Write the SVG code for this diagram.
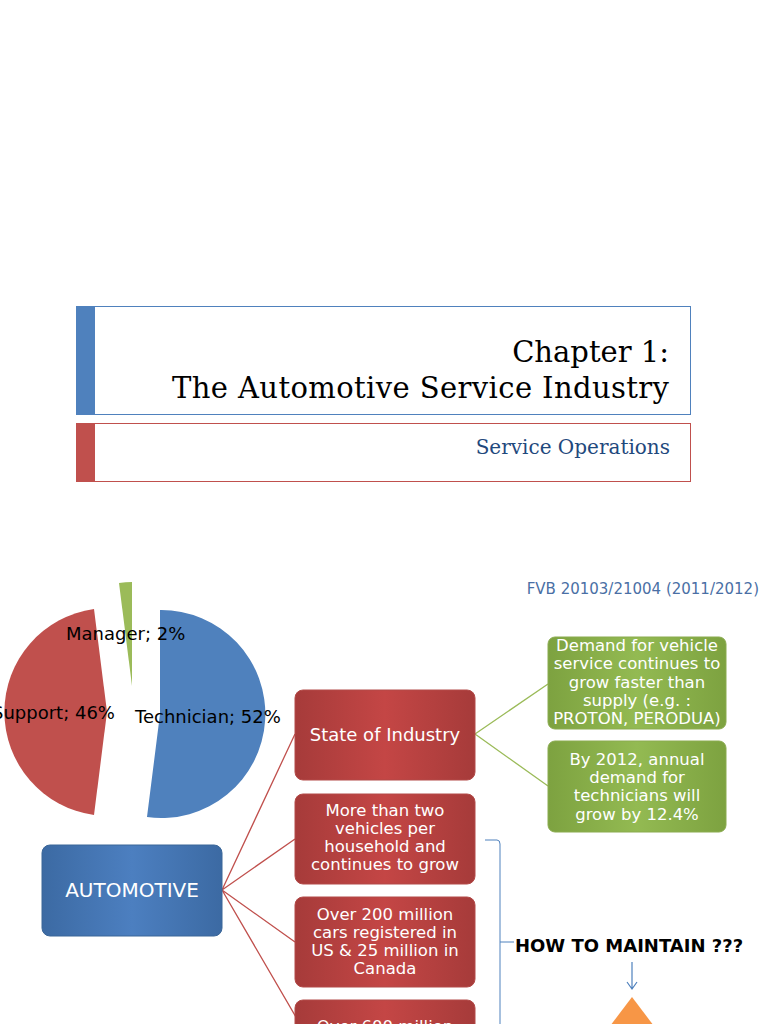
<svg xmlns="http://www.w3.org/2000/svg" width="768" height="1024" viewBox="0 0 768 1024">
<defs>
<linearGradient id="rg" x1="0" x2="1" y1="0" y2="0"><stop offset="0" stop-color="#a63b3a"/><stop offset="0.5" stop-color="#c44645"/><stop offset="1" stop-color="#a63b3a"/></linearGradient>
<linearGradient id="gg" x1="0" x2="1"><stop offset="0" stop-color="#7da240"/><stop offset="0.5" stop-color="#93ba52"/><stop offset="1" stop-color="#7da240"/></linearGradient>
<linearGradient id="bg" x1="0" x2="1"><stop offset="0" stop-color="#3c6aa3"/><stop offset="0.5" stop-color="#4c7fc0"/><stop offset="1" stop-color="#3c6aa3"/></linearGradient>
</defs>
<style>
.w{font-family:"DejaVu Sans",sans-serif;fill:#fff;font-size:16.5px;text-anchor:middle}
.k{font-family:"DejaVu Sans",sans-serif;fill:#000;font-size:18px}
.rb{fill:url(#rg);stroke:#b34a48;stroke-width:1}
.gb{fill:url(#gg);stroke:#8aab4f;stroke-width:1}
.rl{stroke:#c0504d;stroke-width:1.3;fill:none}
.gl{stroke:#9bbb59;stroke-width:1.3;fill:none}
</style>
<g id="title">
<rect x="76.5" y="306.5" width="614" height="108" fill="#fff" stroke="#4f81bd"/>
<rect x="76" y="306" width="19" height="109" fill="#4f81bd"/>
<text x="669" y="362" text-anchor="end" font-family="DejaVu Serif,serif" font-size="29" fill="#000">Chapter 1:</text>
<text x="669" y="398" text-anchor="end" font-family="DejaVu Serif,serif" font-size="29" fill="#000" textLength="497">The Automotive Service Industry</text>
</g>
<g id="subtitle">
<rect x="76.5" y="423.5" width="614" height="58" fill="#fff" stroke="#c0504d"/>
<rect x="76" y="423" width="19" height="59" fill="#c0504d"/>
<text x="670" y="454" text-anchor="end" font-family="DejaVu Serif,serif" font-size="20" fill="#1f497d">Service Operations</text>
</g>
<text x="759" y="594" text-anchor="end" font-family="DejaVu Sans,sans-serif" font-size="15" fill="#4a6fa5">FVB 20103/21004 (2011/2012)</text>
<g id="pie">
<path d="M160,714 L160,610 A104,104 0 1,1 147,817 Z" fill="#4f81bd"/>
<path d="M107,712 L94,815 A104,104 0 0,1 94,609 Z" fill="#c0504d"/>
<path d="M132,686 L119,583 A104,104 0 0,1 132,582 Z" fill="#9bbb59"/>
<text x="66" y="640" class="k">Manager; 2%</text>
<text x="-8" y="719" class="k">Support; 46%</text>
<text x="135" y="723" class="k">Technician; 52%</text>
</g>
<g id="connectors">
<path class="rl" d="M222,890 L295,734 M222,890 L295,839 M222,890 L295,942 M222,890 L300,1024"/>
<path class="gl" d="M475,734 L548,684 M475,734 L548,786"/>
<path d="M485,840 L497,840 Q500,840 500,844 L500,1024 M500,942 L514,942" fill="none" stroke="#4f81bd" stroke-width="1"/>
<path d="M632,962 L632,989 M627,982 L632,989 L637,982" fill="none" stroke="#4f81bd" stroke-width="1.2"/>
</g>
<g id="automotive"><rect x="42" y="845" width="180" height="91" rx="8" fill="url(#bg)" stroke="#3a6698"/><text x="132" y="897" class="w" style="font-size:20px">AUTOMOTIVE</text></g>
<g id="state"><rect x="295" y="690" width="180" height="90" rx="8" class="rb"/><text x="385" y="741" class="w" style="font-size:18px">State of Industry</text></g>
<g id="r1"><rect x="295" y="794" width="180" height="90" rx="8" class="rb"/>
<text class="w"><tspan x="385" y="816">More than two</tspan><tspan x="385" y="834">vehicles per</tspan><tspan x="385" y="852">household and</tspan><tspan x="385" y="870">continues to grow</tspan></text></g>
<g id="r2"><rect x="295" y="897" width="180" height="90" rx="8" class="rb"/>
<text class="w"><tspan x="385" y="920">Over 200 million</tspan><tspan x="385" y="938">cars registered in</tspan><tspan x="385" y="956">US &amp; 25 million in</tspan><tspan x="385" y="974">Canada</tspan></text></g>
<g id="r3"><rect x="295" y="1000" width="180" height="90" rx="8" class="rb"/><text x="385" y="1032" class="w">Over 600 million</text></g>
<g id="g1"><rect x="548" y="637" width="178" height="92" rx="7" class="gb"/>
<text class="w"><tspan x="637" y="651">Demand for vehicle</tspan><tspan x="637" y="669">service continues to</tspan><tspan x="637" y="688">grow faster than</tspan><tspan x="637" y="706">supply (e.g. :</tspan><tspan x="637" y="724">PROTON, PERODUA)</tspan></text></g>
<g id="g2"><rect x="548" y="741" width="178" height="91" rx="7" class="gb"/>
<text class="w"><tspan x="637" y="765">By 2012, annual</tspan><tspan x="637" y="783">demand for</tspan><tspan x="637" y="801">technicians will</tspan><tspan x="637" y="820">grow by 12.4%</tspan></text></g>
<text x="515" y="952" font-family="DejaVu Sans,sans-serif" font-weight="bold" font-size="18" fill="#000">HOW TO MAINTAIN ???</text>
<g id="triangle"><path d="M632,997 L660,1034 L604,1034 Z" fill="#f79646"/></g>
</svg>
